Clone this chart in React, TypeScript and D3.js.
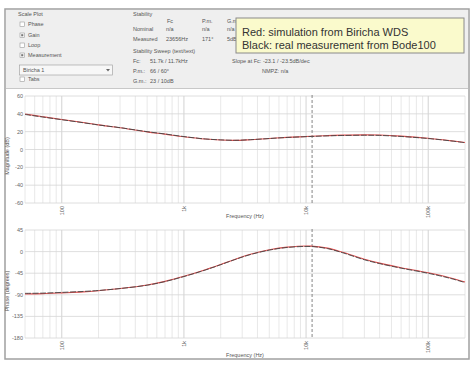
import React from "react";
import * as d3 from "d3";

const freqs = [50, 70, 100, 150, 200, 300, 500, 700, 1000, 1500, 2000, 2600, 3500, 5000, 7000, 11000, 15000, 20000, 30000, 40000, 60000, 100000, 150000, 200000];
const magMeas = [39.3, 36.4, 33.4, 30.0, 27.5, 24.5, 20.0, 17.4, 14.5, 11.8, 10.8, 10.3, 11.0, 12.3, 13.5, 14.6, 15.3, 15.7, 16.0, 15.8, 14.6, 12.3, 9.8, 7.6];
const magSim = [39.8, 36.8, 33.7, 30.2, 27.6, 24.4, 19.8, 17.2, 14.3, 11.7, 10.6, 10.2, 11.0, 12.4, 13.6, 14.8, 15.6, 16.1, 16.4, 16.2, 15.0, 12.6, 10.0, 7.9];
const phaseMeas = [-87, -86.5, -85, -83, -81, -77, -70, -62.5, -52, -38.3, -27.3, -16.8, -6.2, 3.1, 8.6, 10.6, 6.2, -2.5, -17, -25, -34.5, -45.2, -55.4, -64.5];
const phaseSim = [-88, -87.5, -86, -84, -81.5, -77, -69.5, -62, -51.5, -37.8, -26.8, -16.3, -5.6, 3.7, 9.3, 11.5, 7.2, -1.5, -16, -24, -33.5, -44.2, -54.4, -63.5];
const magTicks = [60, 40, 20, 0, -20, -40, -60];
const phaseTicks = [45, 0, -45, -90, -135, -180];
const decadeTicks = [100, 1000, 10000, 100000];
const decadeLabels = ["100", "1k", "10k", "100k"];
const fc = 11200;

const FONT = "'Liberation Sans', Arial, sans-serif";

const x = d3.scaleLog().domain([50, 200000]).range([25, 465]);
const yMag = d3.scaleLinear().domain([-60, 60]).range([203, 96]);
const yPh = d3.scaleLinear().domain([-180, 45]).range([338, 230]);

const minorTicks: number[] = [];
for (let dec = 10; dec <= 100000; dec *= 10) {
  for (let m = 1; m <= 9; m++) {
    const f = dec * m;
    if (f >= 50 && f <= 200000) minorTicks.push(f);
  }
}

function Plot({ y, ticks, meas, sim, title, labelY }: any) {
  const [y0, y1] = y.range();
  const line = d3.line<number>().x((_, i) => x(freqs[i])).y((d) => y(d)).curve(d3.curveCatmullRom.alpha(0.5));
  return (
    <g>
      {minorTicks.map((f) => (
        <line key={"v" + f} x1={x(f)} x2={x(f)} y1={y1} y2={y0}
          stroke={decadeTicks.includes(f) ? "#c8c8c8" : "#e2e2e2"} strokeWidth={0.8} />
      ))}
      {ticks.map((t: number) => (
        <line key={"h" + t} x1={25} x2={465} y1={y(t)} y2={y(t)} stroke="#d6d6d6" strokeWidth={0.8} />
      ))}
      {ticks.map((t: number) => (
        <text key={"t" + t} x={23} y={y(t) + 2} fontSize={5.5} textAnchor="end" fill="#666" fontFamily={FONT}>{t}</text>
      ))}
      {decadeTicks.map((f, i) => (
        <text key={"d" + f} transform={`translate(${x(f) + 2},${y0 + 3}) rotate(-90)`} fontSize={5.5}
          textAnchor="end" fill="#555" fontFamily={FONT}>{decadeLabels[i]}</text>
      ))}
      <line x1={x(fc)} x2={x(fc)} y1={y1 - 1} y2={y0} stroke="#777" strokeWidth={0.9} strokeDasharray="3,2" />
      <path d={line(sim) || ""} fill="none" stroke="#e05050" strokeWidth={1.1} />
      <path d={line(meas) || ""} fill="none" stroke="#444" strokeWidth={0.9} strokeDasharray="6,1.5" />
      <text transform={`translate(9,${labelY}) rotate(-90)`} fontSize={5.5} textAnchor="middle" fill="#555" fontFamily={FONT}>{title}</text>
    </g>
  );
}

export default function App() {
  const small = { fontSize: 5.5, fill: "#555", fontFamily: FONT } as any;
  return (
    <svg width={475} height={368} style={{ position: "absolute", left: 0, top: 0, background: "#fff" }}>
      <rect x={0} y={0} width={475} height={368} fill="#fff" />
      <rect x={5} y={9} width={464} height={350} fill="#fff" stroke="#a0a0a0" strokeWidth={1.5} />
      <rect x={6} y={10} width={462} height={78} fill="#efefef" />
      <line x1={6} x2={468} y1={88.5} y2={88.5} stroke="#c8c8c8" strokeWidth={1} />

      {/* left panel */}
      <text x={18} y={16} {...small}>Scale Plot</text>
      {[{ y: 26, t: "Phase", c: false }, { y: 37, t: "Gain", c: true }, { y: 47, t: "Loop", c: false }, { y: 57, t: "Measurement", c: true }].map((r) => (
        <g key={r.t}>
          <rect x={20} y={r.y - 4} width={4.5} height={4.5} fill="#fff" stroke="#999" strokeWidth={0.6} />
          {r.c && <rect x={21.2} y={r.y - 2.8} width={2.1} height={2.1} fill="#777" />}
          <text x={28} y={r.y} {...small}>{r.t}</text>
        </g>
      ))}
      <rect x={19.5} y={65} width={93} height={10} fill="#f7f7f7" stroke="#a5a5a5" strokeWidth={0.7} />
      <text x={23} y={72} {...small}>Biricha 1</text>
      <path d="M106,69 L110,69 L108,71.5 Z" fill="#666" />
      <rect x={20} y={77} width={4.5} height={4.5} fill="#fff" stroke="#999" strokeWidth={0.6} />
      <text x={28} y={81} {...small}>Tabs</text>

      {/* stability panel */}
      <text x={133} y={16} {...small}>Stability</text>
      <text x={167} y={23} {...small}>Fc</text>
      <text x={202} y={23} {...small}>P.m.</text>
      <text x={227} y={23} {...small}>G.m.</text>
      <text x={133} y={31} {...small}>Nominal</text>
      <text x={166} y={31} {...small}>n/a</text>
      <text x={202} y={31} {...small}>n/a</text>
      <text x={227} y={31} {...small}>n/a</text>
      <text x={133} y={41} {...small}>Measured</text>
      <text x={166} y={41} {...small}>23656Hz</text>
      <text x={202} y={41} {...small}>171°</text>
      <text x={227} y={41} {...small}>5dB</text>
      <text x={133} y={53} {...small}>Stability Sweep (text/text)</text>
      <text x={133} y={63} {...small}>Fc:</text>
      <text x={150} y={63} {...small}>51.7k / 11.7kHz</text>
      <text x={133} y={73} {...small}>P.m.:</text>
      <text x={150} y={73} {...small}>66 / 60°</text>
      <text x={133} y={83} {...small}>G.m.:</text>
      <text x={150} y={83} {...small}>23 / 10dB</text>
      <text x={232} y={63} {...small}>Slope at Fc: -23.1 / -23.5dB/dec</text>
      <text x={262} y={73} {...small}>NMPZ: n/a</text>

      {/* callout */}
      <rect x={236} y={18} width={228} height={35} fill="#fafacc" stroke="#8a8a8a" strokeWidth={1} />
      <text x={242} y={35.5} fontSize={11} fill="#333" fontFamily={FONT}>Red: simulation from Biricha WDS</text>
      <text x={242} y={49} fontSize={11} fill="#333" fontFamily={FONT}>Black: real measurement from Bode100</text>

      <Plot y={yMag} ticks={magTicks} meas={magMeas} sim={magSim} title="Magnitude (dB)" labelY={156} />
      <text x={245} y={218} {...small} textAnchor="middle">Frequency (Hz)</text>
      <Plot y={yPh} ticks={phaseTicks} meas={phaseMeas} sim={phaseSim} title="Phase (degrees)" labelY={291} />
      <text x={245} y={357} {...small} textAnchor="middle">Frequency (Hz)</text>
    </svg>
  );
}
